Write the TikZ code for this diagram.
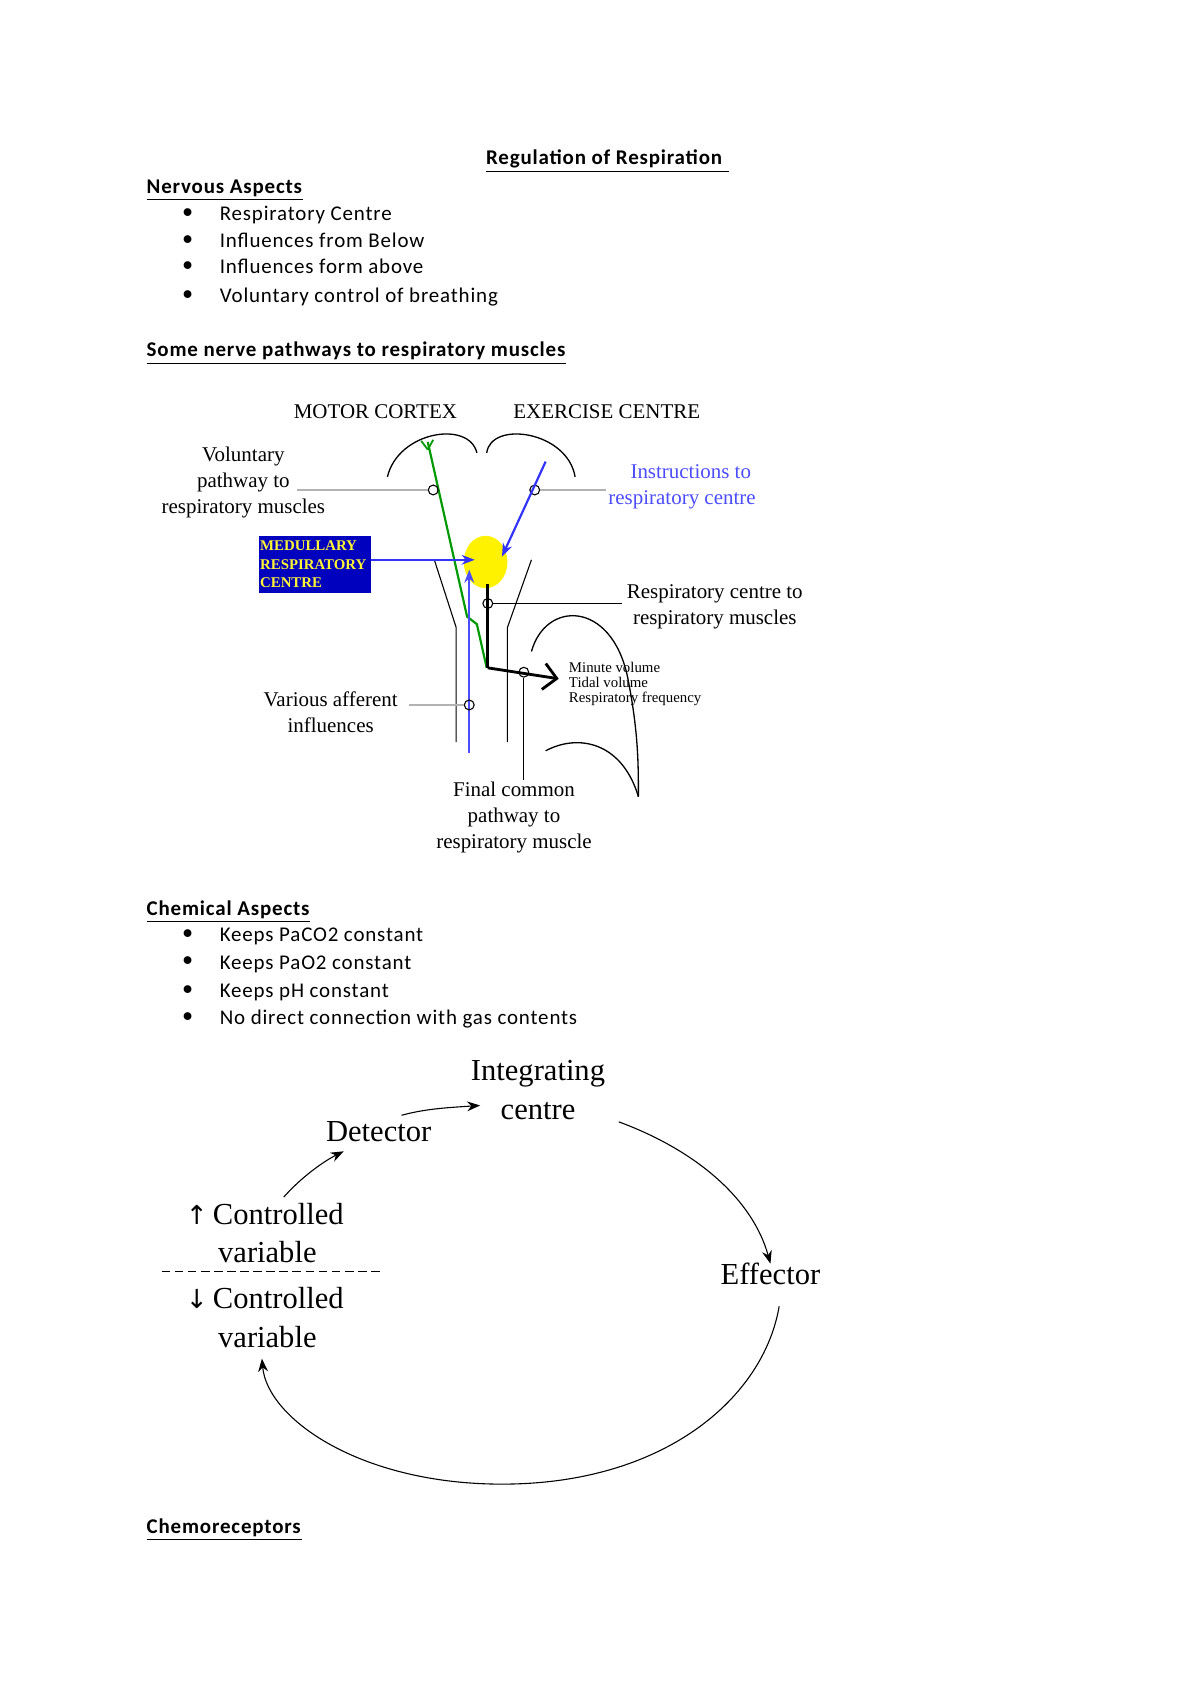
\documentclass[tikz,border=0pt]{standalone}
\usepackage{fontspec}
\setmainfont{Carlito}
\newfontfamily\tnr{Liberation Serif}
\newfontfamily\djv{DejaVu Sans}
\usetikzlibrary{arrows.meta}
\begin{document}
\begin{tikzpicture}[x=0.5pt,y=-0.5pt,
  body/.style={anchor=base west,font=\fontsize{9.6}{11}\selectfont\addfontfeatures{LetterSpace=4}},
  bul/.style={anchor=base,font=\fontsize{9}{11}\selectfont,inner sep=0},
  dl/.style={font=\tnr\fontsize{9.6}{11.8}\selectfont,align=center,inner sep=0},
  big/.style={font=\tnr\fontsize{14}{17}\selectfont,inner sep=0},
  gl/.style={gray!60,line width=0.5pt},
  ring/.style={circle,draw,inner sep=0,minimum size=4.5pt,line width=0.5pt},
  arr/.style={-{Stealth[length=6pt]},line width=0.5pt}]
\useasboundingbox (0,0) rectangle (1100,1556);
\tikzset{body/.append style={inner sep=0}}
% headings
\node[body] (t) at (445,151) {\underline{\textbf{Regulation of Respiration }}};
\node[body] (h1) at (134,177) {\underline{\textbf{Nervous Aspects}}};
\foreach \y/\s in {202/Respiratory Centre,227/Influences from Below,251/Influences form above,277/Voluntary control of breathing}{
  \node[bul] at (172,\y-3) {$\bullet$};
  \node[body] at (201,\y) {\s};}
\node[body] (h2) at (134,327) {\underline{\textbf{Some nerve pathways to respiratory muscles}}};
\node[body] (h3) at (134,839) {\underline{\textbf{Chemical Aspects}}};
\foreach \y/\s in {863/Keeps PaCO2 constant,888/Keeps PaO2 constant,914/Keeps pH constant,939/No direct connection with gas contents}{
  \node[bul] at (172,\y-3) {$\bullet$};
  \node[body] at (201,\y) {\s};}
\node[body] (h4) at (134,1405) {\underline{\textbf{Chemoreceptors}}};
% ---- nerve diagram
\node[dl] (mc) at (344,377) {MOTOR CORTEX};
\node[dl] (ec) at (556,377) {EXERCISE CENTRE};
\draw[line width=0.6pt] (355,437) .. controls (365,395) and (430,385) .. (437,415);
\draw[line width=0.6pt] (446,415) .. controls (450,385) and (520,395) .. (527,437);
% brainstem
\draw[line width=0.5pt] (398,513) -- (418,575) -- (418,680);
\draw[line width=0.5pt] (487,513) -- (465,575) -- (465,680);
% green
\draw[green!60!black,line width=1pt] (392,405) -- (428,565) -- (437,572) -- (446,612);
\draw[green!60!black,line width=0.8pt] (392,412) -- (386,404) (392,412) -- (397,403);
% yellow
\fill[yellow] (445,515) ellipse (20 and 24);
% voluntary
\node[dl] (vol) at (223,442) {Voluntary\\pathway to\\respiratory muscles};
\node[ring] (r1) at (397,449) {};
\draw[gl] (272,449) -- (r1);
% instructions
\node[dl,text=blue!70!white] (ins) at (625,446) {\hspace*{8pt}Instructions to\\respiratory centre};
\node[ring] (r2) at (490,449) {};
\draw[gl] (r2) -- (555,449);
\draw[arr,blue!80!white,line width=1pt] (500,423) -- (460,510);
% medullary box
\node[fill=blue!75!black,minimum width=51.5pt,minimum height=26pt,inner sep=0] (mb) at (288.5,517) {};
\node[anchor=west,font=\tnr\bfseries\fontsize{6.8}{8.4}\selectfont,text=yellow!80!white,align=left,inner sep=0] at (238,517) {MEDULLARY\\RESPIRATORY\\CENTRE};
\coordinate (me) at (435,513);
\draw[arr,blue!80!white,line width=0.8pt] (mb.east |- me) -- (me);
% afferent blue
\coordinate (ab) at (430,690);
\draw[arr,blue!70!white,line width=0.8pt] (ab) -- (430,522);
\node[dl] (va) at (303,653) {Various afferent\\influences};
\node[ring] (r3) at (430,646) {};
\draw[gl] (375,646) -- (r3);
% black output
\coordinate (o1) at (447,612);
\draw[line width=1.3pt] (447,535) -- (o1);
\draw[-{Straight Barb[length=6pt]},line width=1.3pt] (o1) -- (512,622);
\node[ring] (r4) at (447,553) {};
\draw[line width=0.5pt] (r4) -- (570,553);
\node[dl] (rc) at (655,556) {Respiratory centre to\\respiratory muscles};
\node[ring] (r5) at (480,616) {};
\draw[line width=0.5pt] (r5) -- (480,715);
\node[dl] (fc) at (471,749) {Final common\\pathway to\\respiratory muscle};
\node[anchor=west,font=\tnr\fontsize{6.8}{6.8}\selectfont,align=left,inner sep=0] (mv) at (521,627) {Minute volume\\Tidal volume\\Respiratory frequency};
% chest
\draw[line width=0.6pt] (487,597) .. controls (500,550) and (560,550) .. (575,620) .. controls (585,670) and (585,700) .. (585,730);
\draw[line width=0.6pt] (500,688) .. controls (530,672) and (570,680) .. (585,730);
% ---- feedback loop
\node[big,anchor=base] (ic1) at (493,990) {Integrating};
\node[big,anchor=base] (ic2) at (493,1026) {centre};
\node[big,anchor=base] (det) at (347,1046) {Detector};
\node[big,anchor=base] (eff) at (706,1177) {Effector};
\node[big,anchor=base west] (cv1) at (170,1122) {{\djv\fontsize{12}{14}\selectfont↑}\,Controlled};
\node[big,anchor=base] (cv1b) at (245,1157) {variable};
\node[big,anchor=base west] (cv2) at (170,1199) {{\djv\fontsize{12}{14}\selectfont↓}\,Controlled};
\node[big,anchor=base] (cv2b) at (245,1235) {variable};
\draw[dashed,line width=0.5pt,dash pattern=on 4pt off 2pt] (148,1165) -- (348,1165);
\draw[arr] (260,1097) .. controls (275,1080) and (295,1065) .. (315,1055);
\draw[arr] (368,1022) .. controls (390,1016) and (410,1015) .. (440,1013);
\draw[arr] (567,1028) .. controls (640,1055) and (690,1100) .. (706,1158);
\draw[arr] (714,1197) .. controls (700,1280) and (610,1360) .. (460,1360) .. controls (330,1360) and (245,1300) .. (240,1245);
\end{tikzpicture}
\end{document}
